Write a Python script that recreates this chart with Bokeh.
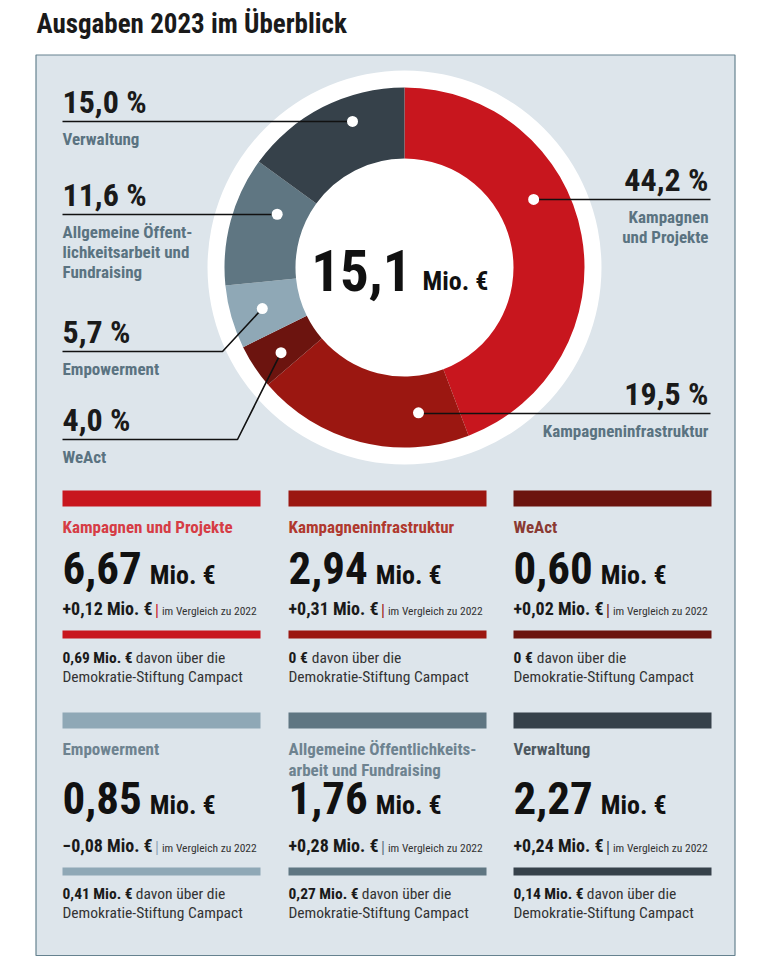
import math
from bokeh.plotting import figure
from bokeh.models import Range1d
from bokeh.core.properties import value
from bokeh.embed import file_html
from bokeh.resources import INLINE

# ---------------- data ----------------
title = "Ausgaben 2023 im Überblick"
total_value = "15,1"
unit = "Mio. €"
categories = ["Kampagnen und Projekte", "Kampagneninfrastruktur", "WeAct",
              "Empowerment", "Allgemeine Öffentlichkeitsarbeit und Fundraising", "Verwaltung"]
shares = [44.2, 19.5, 4.0, 5.7, 11.6, 15.0]
share_labels = ["44,2 %", "19,5 %", "4,0 %", "5,7 %", "11,6 %", "15,0 %"]
donut_names = [["Kampagnen", "und Projekte"], ["Kampagneninfrastruktur"], ["WeAct"],
               ["Empowerment"], ["Allgemeine Öffent-", "lichkeitsarbeit und", "Fundraising"],
               ["Verwaltung"]]
card_titles = [["Kampagnen und Projekte"], ["Kampagneninfrastruktur"], ["WeAct"],
               ["Empowerment"], ["Allgemeine Öffentlichkeits-", "arbeit und Fundraising"],
               ["Verwaltung"]]
amounts = ["6,67", "2,94", "0,60", "0,85", "1,76", "2,27"]
changes = ["+0,12 Mio. €", "+0,31 Mio. €", "+0,02 Mio. €", "−0,08 Mio. €", "+0,28 Mio. €", "+0,24 Mio. €"]
compare_text = "im Vergleich zu 2022"
foundation = ["0,69 Mio. €", "0 €", "0 €", "0,41 Mio. €", "0,27 Mio. €", "0,14 Mio. €"]
foundation_rest = "davon über die"
foundation_line2 = "Demokratie-Stiftung Campact"

# ---------------- styles / layout ----------------
colors = ["#c8161e", "#9b1711", "#6c140f", "#8fa8b6", "#5f7682", "#36414a"]
title_colors = ["#d63c45", "#b0392e", "#8a3a33", "#6e8390", "#6e8390", "#4d5860"]
label_color = "#5a7381"
FONT = "Roboto Condensed"
W, H = 768, 968
CX, CY = 404, 267
R_IN, R_OUT, R_WHITE = 109, 180, 197
dot_angle = [62.2, 174.5, 235.4, 253.9, 292.7, 340.4]
dot_radius = [146, 146, 150, 148, 138, 155]
side = ["right", "right", "left", "left", "left", "left"]
line_y = [199, 413, 439, 351, 214, 121]
elbow_x = [None, None, 237, 222, None, None]
LEFT_X, RIGHT_X = 62, 710
BASE_SHIFT = 0.34  # compensation for renderer's baseline placement (em)

col_x = [62, 288, 513]
card_w = 198
row_top = [490, 712]
row_off = [dict(title=42, num=93, chg=124, bar2=140, l1=173, l2=192),
           dict(title=42, num=101, chg=139, bar2=155, l1=187, l2=206)]


def fy(y):
    return H - y


p = figure(width=W, height=H, x_range=Range1d(0, W), y_range=Range1d(0, H),
           min_border=0, toolbar_location=None, output_backend="svg",
           x_axis_location=None, y_axis_location=None, outline_line_color=None)
p.grid.visible = False
p.background_fill_color = "white"
p.border_fill_color = "white"


def txt(x, y, s, size, color="#1a1a1a", bold=True, align="left"):
    p.text(x=[x], y=[fy(y - BASE_SHIFT * size)], text=[s], text_font=value(FONT),
           text_font_size=value(f"{size}px"),
           text_font_style="bold" if bold else "normal",
           text_color=color, text_align=align, text_baseline="alphabetic")


BOLD_W = {",": 0.2, ".": 0.23, " ": 0.22, "+": 0.5, "−": 0.5, "M": 0.8, "i": 0.22,
          "o": 0.52, "€": 0.5, "%": 0.68}


def width(s, size):
    return sum(BOLD_W.get(c, 0.52) for c in s) * size


# title
txt(36, 33, title, 27, "#1a1a1a")

# panel
p.quad(left=35.5, right=734.5, bottom=fy(955), top=fy(54.5),
       fill_color="#dde5eb", line_color="#66828f", line_width=1.2)

# donut
p.circle(x=[CX], y=[fy(CY)], radius=R_WHITE, fill_color="white", line_color=None)
cum = 0.0
starts, ends = [], []
for s in shares:
    a0 = math.pi / 2 - 2 * math.pi * cum / 100
    cum += s
    a1 = math.pi / 2 - 2 * math.pi * cum / 100
    starts.append(a1)
    ends.append(a0)
p.annular_wedge(x=[CX] * len(shares), y=[fy(CY)] * len(shares), inner_radius=R_IN,
                outer_radius=R_OUT, start_angle=starts, end_angle=ends,
                fill_color=colors, line_color=None)

# leader lines, dots, labels
dxs, dys = [], []
for i in range(len(shares)):
    th = math.radians(dot_angle[i])
    dx = CX + dot_radius[i] * math.sin(th)
    dy = CY - dot_radius[i] * math.cos(th)
    dxs.append(dx)
    dys.append(dy)
    ly = line_y[i]
    if side[i] == "right":
        xs, ys = [dx, RIGHT_X], [ly, ly]
        tx, al = RIGHT_X - 2, "right"
    else:
        if elbow_x[i] is None:
            xs, ys = [LEFT_X, dx], [ly, ly]
        else:
            xs, ys = [LEFT_X, elbow_x[i], dx], [ly, ly, dy]
        tx, al = LEFT_X, "left"
    p.line(x=xs, y=[fy(v) for v in ys], line_color="#111111", line_width=1.6)
    txt(tx, ly - 9, share_labels[i], 32, "#1a1a1a", align=al)
    for k, nm in enumerate(donut_names[i]):
        txt(tx, ly + 23 + 20 * k, nm, 17, label_color, align=al)
p.scatter(x=dxs, y=[fy(v) for v in dys], size=11, fill_color="white", line_color=None)

# center total
txt(CX + 7, 289, total_value, 57, "#111111", align="right")
txt(CX + 18, 289, unit, 26, "#111111")

# cards
for i in range(len(categories)):
    r, c = divmod(i, 3)
    x0 = col_x[c]
    t0 = row_top[r]
    o = row_off[r]
    p.quad(left=x0, right=x0 + card_w, top=fy(t0), bottom=fy(t0 + 16),
           fill_color=colors[i], line_color=None)
    for k, ln in enumerate(card_titles[i]):
        txt(x0, t0 + o["title"] + 21 * k, ln, 17, title_colors[i])
    txt(x0, t0 + o["num"], amounts[i], 45, "#111111")
    txt(x0 + width(amounts[i], 45) + 8, t0 + o["num"], unit, 26, "#111111")
    cw = width(changes[i], 18)
    txt(x0, t0 + o["chg"], changes[i], 18, "#1a1a1a")
    txt(x0 + cw + 3, t0 + o["chg"] + 1, "|", 16, colors[i], bold=False)
    txt(x0 + cw + 10, t0 + o["chg"], compare_text, 11.5, "#333333", bold=False)
    p.quad(left=x0, right=x0 + card_w, top=fy(t0 + o["bar2"]), bottom=fy(t0 + o["bar2"] + 8),
           fill_color=colors[i], line_color=None)
    fw = width(foundation[i], 15.5)
    txt(x0, t0 + o["l1"], foundation[i], 15.5, "#1a1a1a")
    txt(x0 + fw + 4, t0 + o["l1"], foundation_rest, 15.5, "#333333", bold=False)
    txt(x0, t0 + o["l2"], foundation_line2, 15.5, "#333333", bold=False)

open("out.html", "w").write(file_html(p, INLINE))
